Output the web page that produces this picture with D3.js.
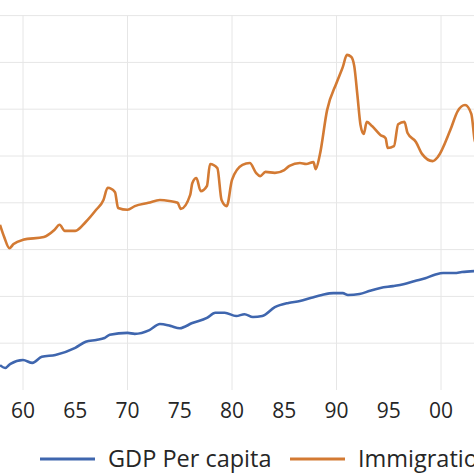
<!DOCTYPE html>
<html>
<head>
<meta charset="utf-8">
<script src="https://cdn.jsdelivr.net/npm/d3@7"></script>
<style>
body { margin: 0; background: #fff; overflow: hidden; }
text { font-family: "Open Sans", sans-serif; }
</style>
</head>
<body>
<svg id="chart" width="474" height="474"></svg>
<script>
// Data (y in grid units)
const immYears = [1957.8,1958.2,1958.7,1959.1,1960.0,1962.0,1963.0,1963.5,1964.0,1965.0,1966.0,1967.0,1967.7,1968.1,1968.8,1969.1,1970.0,1970.7,1972.0,1973.1,1974.0,1974.8,1975.1,1976.0,1976.2,1976.6,1977.0,1977.6,1977.9,1978.6,1979.0,1979.5,1980.0,1981.0,1981.7,1982.3,1982.7,1983.2,1984.1,1985.0,1985.5,1986.5,1987.1,1987.8,1988.0,1988.4,1989.1,1990.0,1990.6,1991.0,1991.4,1991.7,1992.0,1992.3,1992.6,1992.9,1993.4,1994.2,1994.7,1994.9,1995.5,1995.9,1996.5,1996.8,1997.6,1998.2,1999.2,1999.7,2000.9,2001.6,2002.3,2002.9,2003.3,2003.6];
const immValues = [3.53,3.27,3.03,3.12,3.21,3.27,3.42,3.53,3.40,3.40,3.59,3.85,4.06,4.32,4.23,3.89,3.85,3.93,4.00,4.06,4.04,4.00,3.87,4.17,4.42,4.53,4.25,4.36,4.83,4.74,4.06,3.93,4.49,4.81,4.85,4.64,4.57,4.66,4.64,4.70,4.79,4.85,4.83,4.87,4.72,5.02,5.98,6.56,6.90,7.16,7.12,6.92,6.30,5.66,5.47,5.73,5.64,5.45,5.38,5.17,5.21,5.68,5.73,5.49,5.30,5.04,4.89,4.98,5.56,5.96,6.09,5.90,5.28,5.34];
const gdpYears = [1957.8,1958.3,1958.8,1960.0,1960.9,1961.8,1963.1,1965.0,1966.0,1967.0,1967.8,1968.3,1970.0,1970.7,1972.1,1973.1,1974.1,1975.0,1976.2,1977.6,1978.4,1979.3,1980.4,1981.2,1982.0,1982.9,1984.1,1985.4,1986.5,1987.6,1988.6,1989.7,1990.6,1991.1,1992.2,1993.2,1994.2,1995.4,1996.4,1997.5,1998.5,1999.4,2000.2,2001.3,2002.0,2003.2];
const gdpValues = [0.53,0.47,0.56,0.64,0.58,0.71,0.75,0.90,1.03,1.07,1.11,1.18,1.22,1.20,1.28,1.41,1.37,1.32,1.43,1.54,1.65,1.65,1.58,1.62,1.56,1.58,1.77,1.86,1.90,1.97,2.03,2.07,2.07,2.03,2.05,2.12,2.18,2.22,2.26,2.33,2.39,2.46,2.50,2.50,2.52,2.54];
const tickYears = [1960,1965,1970,1975,1980,1985,1990,1995,2000];
const tickLabels = ['60','65','70','75','80','85','90','95','00'];
const gridYears = [1960,1970,1980,1990,2000];
const gridValues = [1,2,3,4,5,6,7,8];
const seriesNames = ['GDP Per capita', 'Immigration'];

const svg = d3.select('#chart');
const x = d3.scaleLinear().domain([1960, 2000]).range([23, 441]);
const y = d3.scaleLinear().domain([0, 8]).range([390, 15.6]);

// grid
svg.append('g').selectAll('line').data(gridValues).enter().append('line')
.attr('x1', 0).attr('x2', 474)
.attr('y1', d => y(d)).attr('y2', d => y(d))
.style('stroke', '#e6e6e6').style('stroke-width', 1);

svg.append('g').selectAll('line').data(gridYears).enter().append('line')
.attr('x1', d => x(d)).attr('x2', d => x(d))
.attr('y1', y(8)).attr('y2', y(0))
.style('stroke', '#e6e6e6').style('stroke-width', 1);

// x tick labels
svg.append('g').selectAll('text').data(tickYears).enter().append('text')
.attr('x', d => x(d)).attr('y', 418)
.attr('text-anchor', 'middle')
.style('font-size', '21px').style('fill', '#262626')
.text((d, i) => tickLabels[i]);

// lines
const line = d3.line().x(d => x(d[0])).y(d => y(d[1])).curve(d3.curveMonotoneX);
svg.append('path')
.datum(gdpYears.map((yr, i) => [yr, gdpValues[i]]))
.attr('d', line).style('fill', 'none')
.style('stroke', '#3f66ae').style('stroke-width', 2.6);

svg.append('path')
.datum(immYears.map((yr, i) => [yr, immValues[i]]))
.attr('d', line).style('fill', 'none')
.style('stroke', '#d37a33').style('stroke-width', 2.6)
.style('stroke-linejoin', 'round');

// legend
const legendX = [40, 290];
const legendColours = ['#3f66ae', '#d37a33'];
const legend = svg.append('g').selectAll('g').data(seriesNames).enter().append('g')
.attr('transform', (d, i) => `translate(${legendX[i]},459)`);
legend.append('line').attr('x1', 0).attr('x2', 55)
.style('stroke', (d, i) => legendColours[i]).style('stroke-width', 3);
legend.append('text').attr('x', 68).attr('y', 8)
.style('font-size', '23.5px').style('fill', '#262626')
.text(d => d);
</script>
</body>
</html>
